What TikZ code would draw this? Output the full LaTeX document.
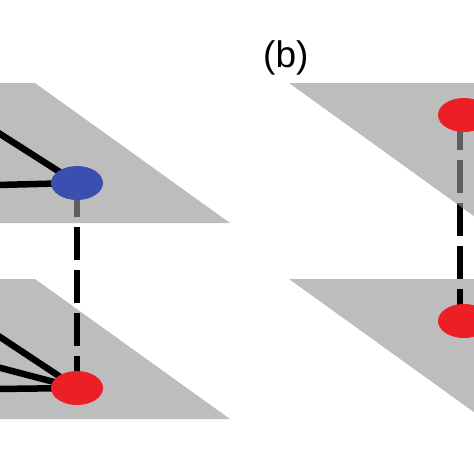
\documentclass[tikz,border=0pt]{standalone}
\usepackage{fontspec}
\setmainfont{Liberation Sans}
\usetikzlibrary{shapes.geometric}
\definecolor{planegray}{RGB}{189,189,189}
\definecolor{planedark}{RGB}{150,150,150}
\definecolor{nodeblue}{RGB}{58,80,176}
\definecolor{nodered}{RGB}{236,30,38}
\pgfdeclarelayer{lone}
\pgfdeclarelayer{ltwo}
\pgfdeclarelayer{lthree}
\pgfdeclarelayer{lfour}
\pgfsetlayers{lone,ltwo,lthree,lfour,main}
\tikzset{
  vertex/.style={ellipse, inner sep=0pt, minimum width=52pt, minimum height=34pt, draw=none},
  bluev/.style={vertex, fill=nodeblue},
  redv/.style={vertex, fill=nodered},
  planeback/.style={fill=planegray, draw=none},
  planefront/.style={fill=planedark, fill opacity=0.63, draw=none},
  edgeline/.style={black, line width=6.5pt},
  interlayer/.style={black, line width=5.5pt, dash pattern=on 33pt off 10pt}
}
\begin{document}
\begin{tikzpicture}[x=1pt,y=-1pt]
\useasboundingbox (0,0) rectangle (474,474);
% nodes
\node[bluev] (a1) at (77,183) {};
\node[redv]  (a2) at (77,388) {};
\node[redv]  (b1) at (464,115) {};
\node[redv]  (b2) at (464,321) {};
\node[anchor=base west, inner sep=0pt, font=\fontsize{37}{42}\selectfont] (lab) at (263,67.5) {(b)};
% free ends of edges
\coordinate (e1) at (-3,132);
\coordinate (e2) at (-3,185);
\coordinate (e3) at (-3,335);
\coordinate (e4) at (-3,367);
\coordinate (e5) at (-3,389);
\begin{pgfonlayer}{lone}
  \fill[planeback] (-5,279) -- (35,279) -- (230,419) -- (-5,419) -- cycle;
  \fill[planeback] (289,279) -- (480,279) -- (480,416.5) -- cycle;
\end{pgfonlayer}
\begin{pgfonlayer}{ltwo}
  \draw[edgeline] (e3) -- (a2.center);
  \draw[edgeline] (e4) -- (a2.center);
  \draw[edgeline] (e5) -- (a2.center);
  \draw[interlayer, dash phase=42pt] (a1.center) -- (a2.center);
  \draw[interlayer, dash phase=41pt] ([xshift=-4pt]b1.center) -- ([xshift=-4pt]b2.center);
\end{pgfonlayer}
\begin{pgfonlayer}{lthree}
  \fill[planefront] (-5,83) -- (35,83) -- (230,223) -- (-5,223) -- cycle;
  \fill[planefront] (289,83) -- (480,83) -- (480,220.5) -- cycle;
\end{pgfonlayer}
\begin{pgfonlayer}{lfour}
  \draw[edgeline] (e1) -- (a1.center);
  \draw[edgeline] (e2) -- (a1.center);
\end{pgfonlayer}
\end{tikzpicture}
\end{document}
